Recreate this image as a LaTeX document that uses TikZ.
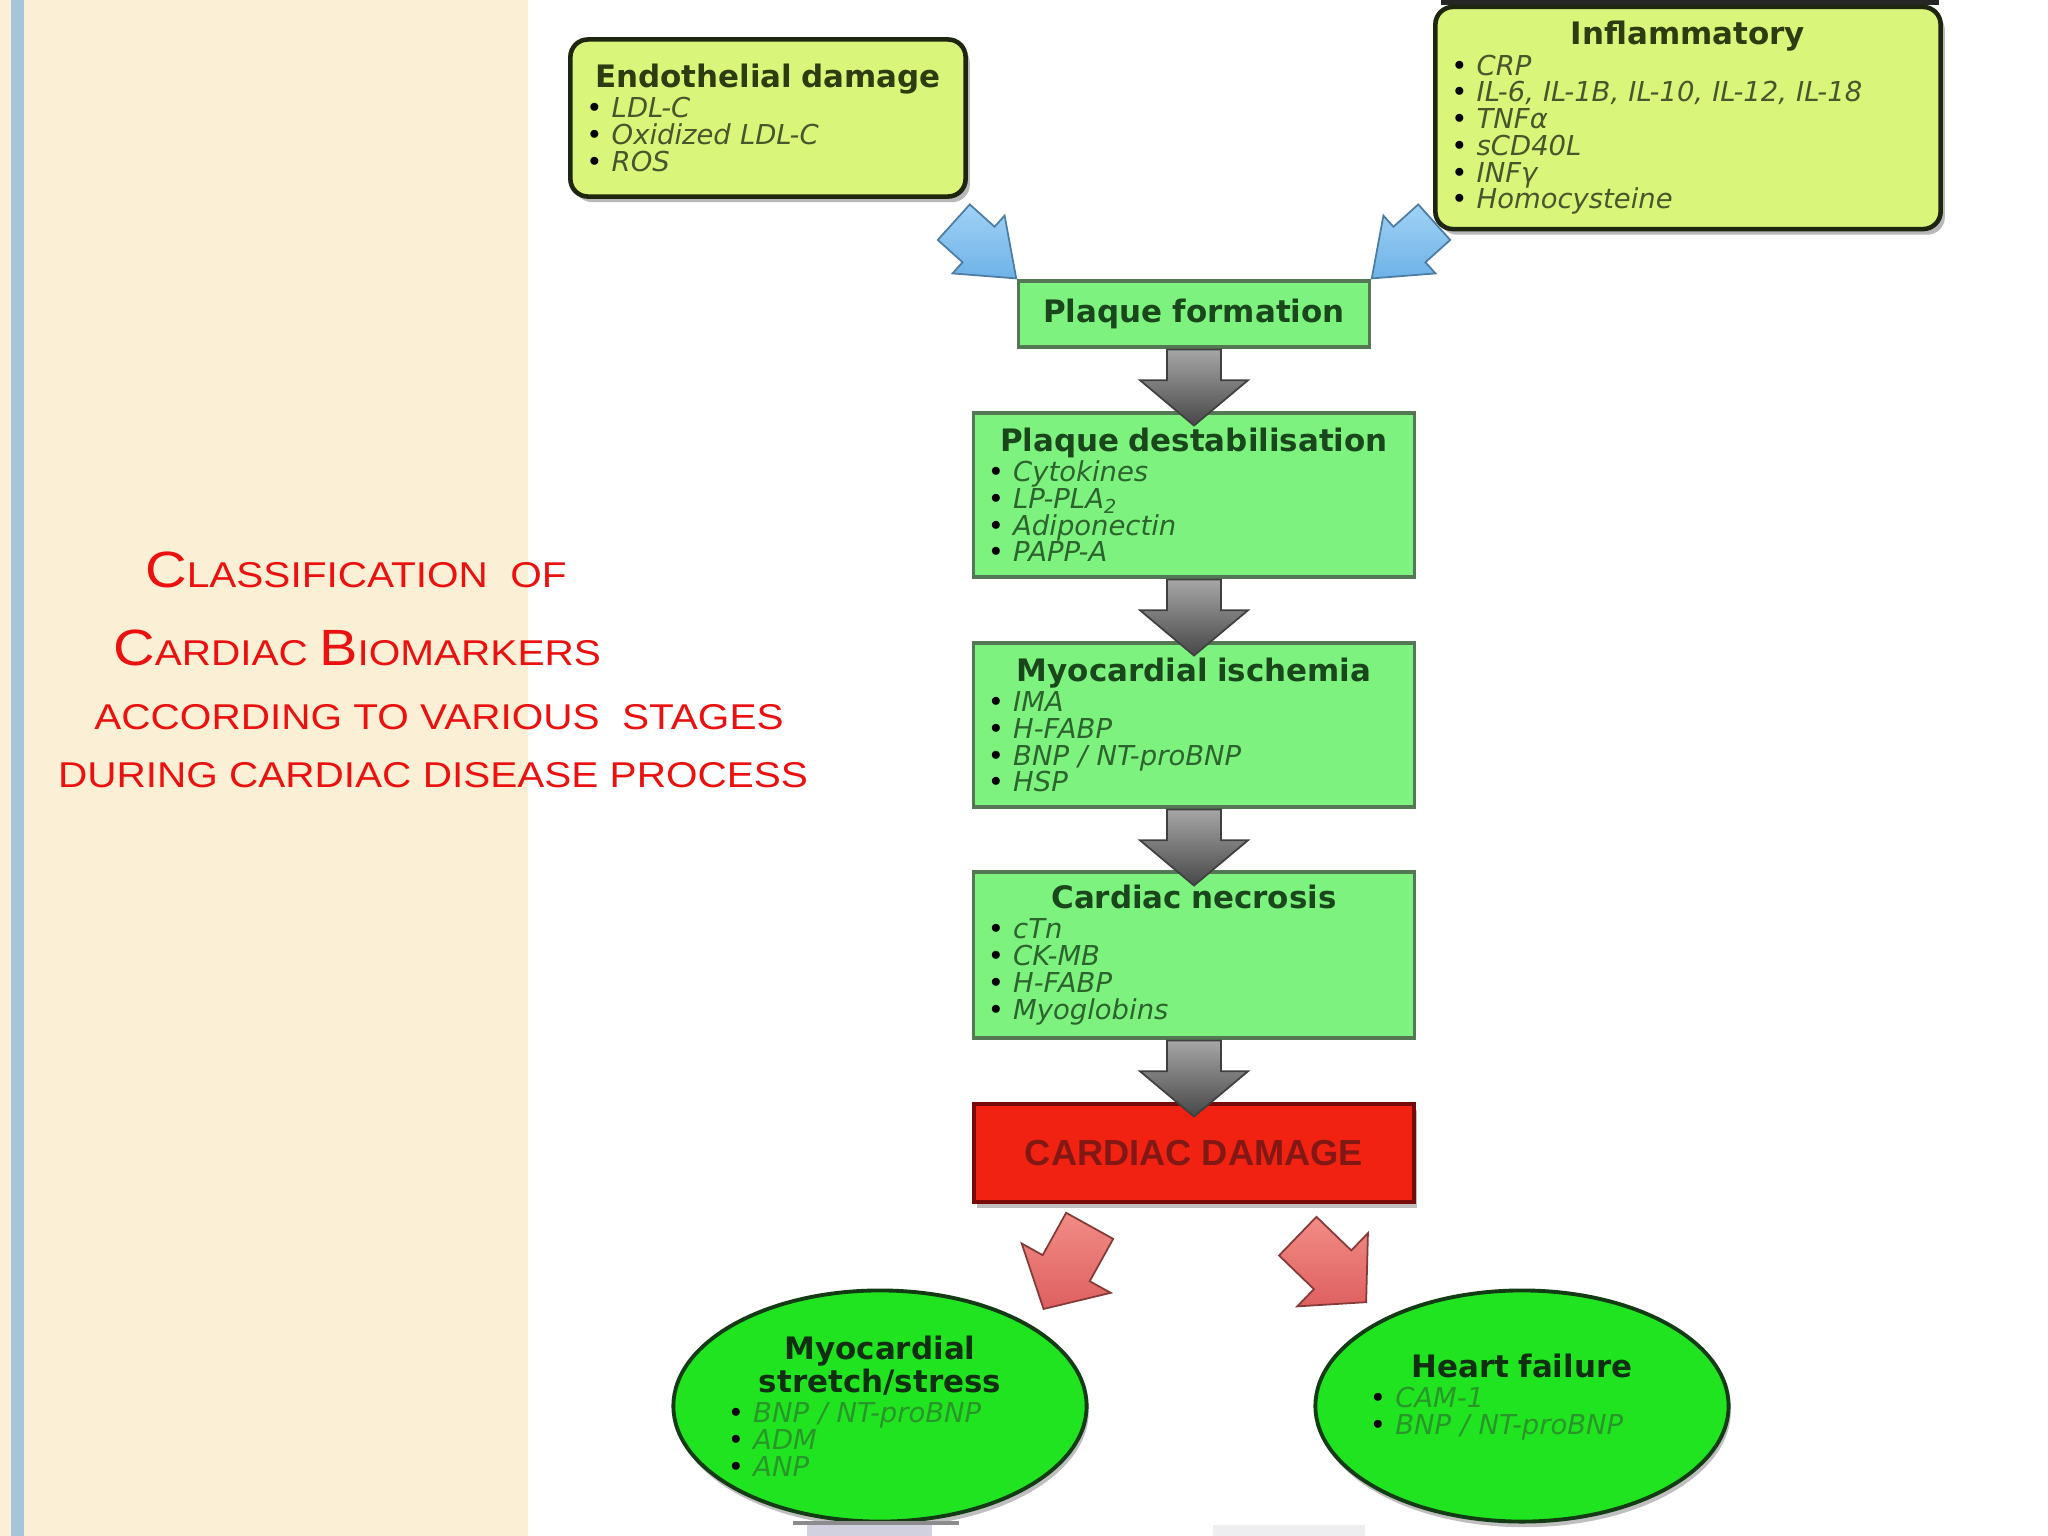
\documentclass[tikz,border=0pt]{standalone}
\usepackage{fontspec}
\setmainfont{DejaVu Sans}
\newfontfamily\headfont[FakeStretch=1.13]{Liberation Sans}
\newfontfamily\dmgfont{Liberation Sans}
\usepackage{tikz}
\usetikzlibrary{shapes.geometric, shapes.arrows, shadows, positioning}

\definecolor{paper}{RGB}{251,240,213}
\definecolor{stripe}{RGB}{166,196,218}
\definecolor{headred}{RGB}{235,17,17}
\definecolor{riskfill}{RGB}{218,246,122}
\definecolor{riskline}{RGB}{30,38,16}
\definecolor{riskhead}{RGB}{46,60,18}
\definecolor{riskitem}{RGB}{72,86,44}
\definecolor{stagefill}{RGB}{126,242,126}
\definecolor{stageline}{RGB}{84,120,84}
\definecolor{stagehead}{RGB}{26,70,28}
\definecolor{stageitem}{RGB}{44,100,46}
\definecolor{dmgfill}{RGB}{242,34,18}
\definecolor{dmgline}{RGB}{120,10,8}
\definecolor{dmgtext}{RGB}{130,24,20}
\definecolor{endfill}{RGB}{32,228,32}
\definecolor{endline}{RGB}{20,60,20}
\definecolor{endhead}{RGB}{16,46,16}
\definecolor{enditem}{RGB}{40,150,40}
\definecolor{bluearrA}{RGB}{110,178,232}
\definecolor{bluearrB}{RGB}{160,210,245}
\definecolor{pinkarrA}{RGB}{222,96,96}
\definecolor{pinkarrB}{RGB}{242,140,134}

\newcommand{\itemfont}{\fontsize{7.8}{7.6}\selectfont\lineskiplimit=-5pt\relax}
\newcommand{\titlefont}{\fontsize{8.8}{9.4}\selectfont\bfseries}
\newcommand{\boxtitle}[1]{{\centering\titlefont #1\par}\vspace{1pt}}
\newcommand{\itm}[1]{{\color{black}\textbullet}\ {\itshape\color{itmcol}#1}}
\newcommand{\capl}[1]{{\fontsize{14.5}{16}\selectfont #1}}

\begin{document}
\begin{tikzpicture}[x=0.01cm, y=-0.01cm,
    risk/.style    = {draw=riskline, fill=riskfill, line width=1.3pt, rounded corners=5pt,
                      drop shadow={opacity=0.55, shadow xshift=1.2pt, shadow yshift=-1.6pt},
                      inner xsep=0.16cm, inner ysep=0pt, align=left, text=riskhead,
                      font=\itemfont, execute at begin node=\colorlet{itmcol}{riskitem}},
    stage/.style   = {draw=stageline, fill=stagefill, line width=0.9pt,
                      text width=4.12cm, inner xsep=0.14cm, inner ysep=0pt,
                      align=left, text=stagehead, font=\itemfont,
                      execute at begin node=\colorlet{itmcol}{stageitem}},
    dmgbox/.style  = {draw=dmgline, fill=dmgfill, line width=1.2pt,
                      minimum width=4.4cm, minimum height=0.98cm, text=dmgtext,
                      font=\dmgfont\bfseries\fontsize{10.3}{12}\selectfont,
                      drop shadow={opacity=0.5, shadow xshift=0.8pt, shadow yshift=-1.6pt}},
    outcome/.style = {ellipse, draw=endline, fill=endfill, line width=1.1pt,
                      minimum width=4.13cm, minimum height=2.31cm, text width=3.04cm,
                      inner xsep=-0.1cm, inner ysep=0pt, align=left, text=endhead, font=\itemfont,
                      drop shadow={opacity=0.5, shadow xshift=0.6pt, shadow yshift=-1.6pt},
                      execute at begin node=\colorlet{itmcol}{enditem}},
    grayarr/.style = {single arrow, draw=black!75, line width=0.5pt,
                      top color=black!35, bottom color=black!72,
                      minimum height=0.76cm, minimum width=1.06cm, inner xsep=0pt, inner ysep=0.26cm,
                      single arrow head extend=0.27cm, single arrow tip angle=100, anchor=tail},
    bluearr/.style = {single arrow, draw=bluearrA!70!black, line width=0.5pt,
                      top color=bluearrB, bottom color=bluearrA,
                      minimum height=0.84cm, minimum width=0.76cm, inner xsep=0pt, inner ysep=0.23cm,
                      single arrow head extend=0.15cm, single arrow tip angle=75, anchor=tip},
    pinkarr/.style = {single arrow, draw=pinkarrA!60!black, line width=0.5pt,
                      top color=pinkarrB, bottom color=pinkarrA,
                      minimum height=0.95cm, minimum width=1.0cm, inner xsep=0pt, inner ysep=0.26cm,
                      single arrow head extend=0.24cm, single arrow tip angle=95, anchor=tip},
    headline/.style = {anchor=base, inner sep=0pt, text=headred,
                       font=\headfont\fontsize{10.2}{12}\selectfont}
  ]
    \useasboundingbox (0,0) rectangle (2048,1536);
    \fill[white] (0,0) rectangle (2048,1536);
    \fill[paper] (0,0) rectangle (528,1536);
    \fill[stripe] (11,0) rectangle (24,1536);

    \node[headline] (t1) at (356,587) {\capl{C}LASSIFICATION\ \ OF};
    \node[headline] (t2) at (357,665) {\capl{C}ARDIAC \capl{B}IOMARKERS};
    \node[headline] (t3) at (439,729) {ACCORDING TO VARIOUS\ \ STAGES};
    \node[headline] (t4) at (433,787) {DURING CARDIAC DISEASE PROCESS};

    \fill[black!85] (1441,0) rectangle (1939,5);
    \node[risk, text width=3.63cm, minimum height=1.57cm] (endo) at (768,118)
          {\boxtitle{Endothelial damage}\itm{LDL-C}\\\itm{Oxidized LDL-C}\\\itm{ROS}};
    \node[risk, text width=4.73cm, minimum height=2.22cm] (infl) at (1688,118)
          {\boxtitle{Inflammatory}\itm{CRP}\\\itm{IL-6, IL-1B, IL-10, IL-12, IL-18}\\\itm{TNFα}\\
           \itm{sCD40L}\\\itm{INFγ}\\\itm{Homocysteine}};

    \node[stage, text width=3.22cm, minimum height=0.66cm, align=center, font=\titlefont] (pf)
          at (1194,314) {Plaque formation};
    \node[stage, minimum height=1.64cm] (pd) at (1194,495)
          {\boxtitle{Plaque destabilisation}\itm{Cytokines}\\\itm{LP-PLA\textsubscript{2}}\\
           \itm{Adiponectin}\\\itm{PAPP-A}};
    \node[stage, minimum height=1.64cm] (mi) at (1194,725)
          {\boxtitle{Myocardial ischemia}\itm{IMA}\\\itm{H-FABP}\\\itm{BNP / NT-proBNP}\\\itm{HSP}};
    \node[stage, minimum height=1.66cm] (nc) at (1194,955)
          {\boxtitle{Cardiac necrosis}\itm{cTn}\\\itm{CK-MB}\\\itm{H-FABP}\\\itm{Myoglobins}};
    \node[dmgbox] (dmg) at (1194,1153) {CARDIAC DAMAGE};

    \node[outcome] (mss) at (880,1406)
          {\boxtitle{Myocardial\\stretch/stress}\itm{BNP / NT-proBNP}\\\itm{ADM}\\\itm{ANP}};
    \node[outcome] (hf) at (1522,1406)
          {\boxtitle{Heart failure}\itm{CAM-1}\\\itm{BNP / NT-proBNP}\par\vspace{5pt}};

    \node[bluearr, rotate=-42]  (b1) at (pf.north west) {};
    \node[bluearr, rotate=-138] (b2) at (pf.north east) {};
    \node[grayarr, rotate=-90] (g1) at (pf.south) {};
    \node[grayarr, rotate=-90] (g2) at (pd.south) {};
    \node[grayarr, rotate=-90] (g3) at (mi.south) {};
    \node[grayarr, rotate=-90] (g4) at (nc.south) {};
    \node[pinkarr, rotate=-119] (p1) at (1043,1310) {};
    \node[pinkarr, rotate=-44]  (p2) at (1367,1303) {};

    \fill[black!45] (793,1521) rectangle (959,1525);
    \fill[blue!20!gray!30] (807,1525) rectangle (932,1536);
    \fill[blue!8!gray!12] (1213,1525) rectangle (1365,1536);
  \end{tikzpicture}
\end{document}
